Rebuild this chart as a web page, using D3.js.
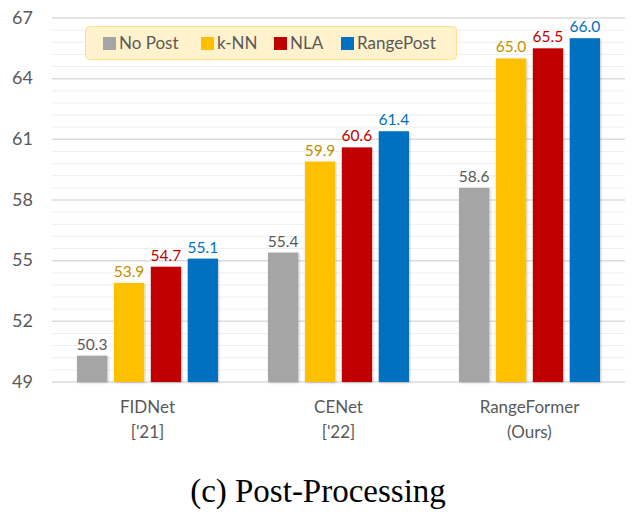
<!DOCTYPE html>
<html>
<head>
<meta charset="utf-8">
<script src="https://cdn.jsdelivr.net/npm/d3@7"></script>
<style>
  body { margin: 0; background: #fff; }
  svg { display: block; }
</style>
</head>
<body>
<div id="chart"></div>
<script>
const GROUPS = ["FIDNet", "CENet", "RangeFormer"];
const GROUP_SUB = ["['21]", "['22]", "(Ours)"];
const SERIES = ["No Post", "k-NN", "NLA", "RangePost"];
const VALUES = [
  [50.3, 53.9, 54.7, 55.1],
  [55.4, 59.9, 60.6, 61.4],
  [58.6, 65.0, 65.5, 66.0]
];
const Y_TICKS = [49, 52, 55, 58, 61, 64, 67];

const BAR_COLORS = ["#A5A5A5", "#FFC000", "#C00000", "#0070C0"];
const LABEL_COLORS = ["#595959", "#BF9000", "#C00000", "#0070C0"];

const W = 635, H = 532;
const PLOT = { left: 52, right: 625, top: 18, bottom: 382 };
const FONT = "Lato, 'Open Sans', sans-serif";

const svg = d3.select("#chart").append("svg")
  .attr("width", W).attr("height", H);

const defs = svg.append("defs");
const shadow = defs.append("filter").attr("id", "shadow")
  .attr("x", "-20%").attr("y", "-20%").attr("width", "140%").attr("height", "140%");
shadow.append("feDropShadow")
  .attr("dx", 0.8).attr("dy", 0.8).attr("stdDeviation", 0.8)
  .attr("flood-color", "#000").attr("flood-opacity", 0.25);

const y = d3.scaleLinear().domain([49, 67]).range([PLOT.bottom, PLOT.top]);
const x0 = d3.scaleBand().domain(GROUPS)
  .range([PLOT.left, PLOT.right])
  .paddingInner(0.262).paddingOuter(0.131);
const x1 = d3.scaleBand().domain(SERIES)
  .range([0, x0.bandwidth()])
  .paddingInner(0.18).paddingOuter(0);

// minor grid every 0.6
const minor = d3.range(49, 67.001, 0.6).filter(v => !Y_TICKS.some(t => Math.abs(t - v) < 1e-6));
svg.append("g").selectAll("line").data(minor).join("line")
  .attr("x1", PLOT.left).attr("x2", PLOT.right)
  .attr("y1", d => y(d)).attr("y2", d => y(d))
  .attr("stroke", "#EFEFEF").attr("stroke-width", 1);

svg.append("g").selectAll("line").data(Y_TICKS).join("line")
  .attr("x1", PLOT.left).attr("x2", PLOT.right)
  .attr("y1", d => y(d)).attr("y2", d => y(d))
  .attr("stroke", "#DCDCDC").attr("stroke-width", 1.5);

// y tick labels
svg.append("g").selectAll("text").data(Y_TICKS).join("text")
  .attr("x", 33).attr("y", d => y(d) + 1)
  .attr("text-anchor", "end")
  .attr("dominant-baseline", "middle")
  .attr("fill", "#595959")
  .attr("font-family", FONT).attr("font-size", "18px")
  .text(d => d);

// bars
const groupG = svg.append("g").selectAll("g").data(GROUPS).join("g")
  .attr("transform", d => `translate(${x0(d)},0)`);

groupG.each(function(g, gi) {
  const sel = d3.select(this);
  const rows = VALUES[gi].map((v, si) => ({ v, si, s: SERIES[si] }));
  sel.selectAll("rect").data(rows).join("rect")
    .attr("x", d => x1(d.s))
    .attr("y", d => y(d.v))
    .attr("width", x1.bandwidth())
    .attr("height", d => y(49) - y(d.v))
    .attr("fill", d => BAR_COLORS[d.si])
    .attr("filter", "url(#shadow)");
  sel.selectAll("text").data(rows).join("text")
    .attr("x", d => x1(d.s) + x1.bandwidth() / 2)
    .attr("y", d => y(d.v) - 6)
    .attr("text-anchor", "middle")
    .attr("fill", d => LABEL_COLORS[d.si])
    .attr("font-family", FONT).attr("font-size", "15.5px")
    .text(d => d.v.toFixed(1));
});

// category labels
const cat = svg.append("g").selectAll("text").data(GROUPS).join("text")
  .attr("text-anchor", "middle")
  .attr("fill", "#595959")
  .attr("font-family", FONT).attr("font-size", "17px");
cat.append("tspan")
  .attr("x", d => x0(d) + x0.bandwidth() / 2).attr("y", 413)
  .text(d => d);
cat.append("tspan")
  .attr("x", d => x0(d) + x0.bandwidth() / 2).attr("y", 438)
  .text((d, i) => GROUP_SUB[i]);

// legend
const legend = svg.append("g");
legend.append("rect")
  .attr("x", 85.5).attr("y", 26.5).attr("width", 371).attr("height", 33)
  .attr("rx", 4)
  .attr("fill", "#FFF2CC").attr("stroke", "#FFE08A").attr("stroke-width", 1);
const LEG_X = [103, 201, 274, 341];
const item = legend.selectAll("g").data(SERIES).join("g")
  .attr("transform", (d, i) => `translate(${LEG_X[i]},37)`);
item.append("rect")
  .attr("width", 13).attr("height", 13)
  .attr("fill", (d, i) => BAR_COLORS[i]);
item.append("text")
  .attr("x", 16).attr("y", 12)
  .attr("fill", "#595959")
  .attr("font-family", FONT).attr("font-size", "17px")
  .text(d => d);

// caption
svg.append("text")
  .attr("x", 318).attr("y", 502)
  .attr("text-anchor", "middle")
  .attr("fill", "#000")
  .attr("font-family", "'Liberation Serif', 'Times New Roman', serif")
  .attr("font-size", "33px")
  .text("(c) Post-Processing");
</script>
</body>
</html>
